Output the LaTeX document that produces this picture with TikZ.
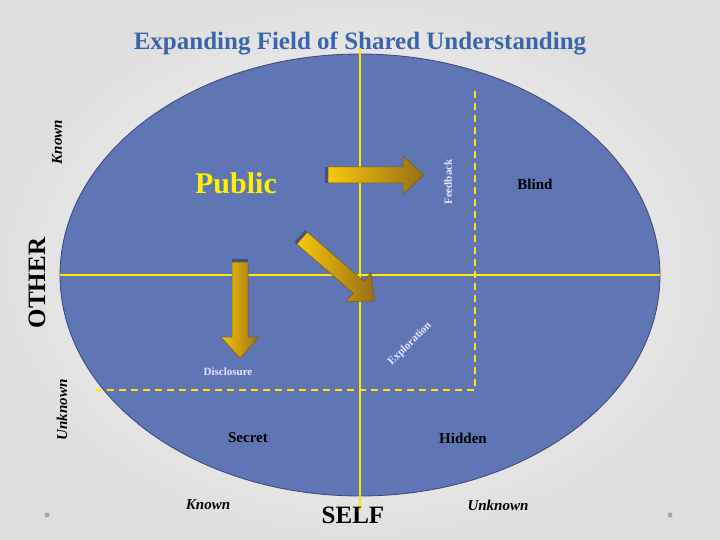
\documentclass[tikz,border=0pt]{standalone}
\usepackage{fontspec}
\setmainfont{Liberation Serif}
\definecolor{ttl}{RGB}{60,100,170}
\definecolor{ellf}{RGB}{96,117,180}
\definecolor{elld}{RGB}{60,70,120}
\definecolor{gA}{RGB}{250,200,10}
\definecolor{gB}{RGB}{150,110,20}
\definecolor{gD}{RGB}{120,90,20}
\definecolor{nt}{RGB}{70,80,130}
\begin{document}
\begin{tikzpicture}[x=1pt,y=-1pt,
  yl/.style={draw=yellow!90!orange, line width=1.3pt},
  dl/.style={yl, dash pattern=on 7pt off 5pt},
  lab/.style={font=\bfseries\fontsize{15}{15}\selectfont},
  side/.style={font=\bfseries\itshape\fontsize{15}{15}\selectfont},
  wl/.style={text=white!90!blue, font=\bfseries\fontsize{11}{11}\selectfont}]
\useasboundingbox (0,0) rectangle (720,540);
\shade[inner color=white, outer color=gray!25] (0,0) rectangle (720,540);
\fill[gray!70] (47,515) circle (2.5);
\fill[gray!70] (670,515) circle (2.5);
\node[font=\bfseries\fontsize{25}{25}\selectfont, text=ttl] (title) at (360,43) {Expanding Field of Shared Understanding};
\filldraw[fill=ellf, draw=elld, line width=0.8pt] (360,275) ellipse [x radius=300, y radius=221];
\coordinate (vt) at (360,48); \coordinate (vb) at (360,510);
\coordinate (hl) at (60,275); \coordinate (hr) at (660,275);
\draw[yl] (vt) -- (vb);
\draw[yl] (hl) -- (hr);
\coordinate (d1) at (95,390); \coordinate (d2) at (475,390); \coordinate (d3) at (475,88);
\draw[dl] (d1) -- (d2) -- (d3);
\newcommand{\goldarrow}[1]{%
 \begin{scope}[#1]
 \shade[left color=gA, right color=gB, draw=gD, line width=0.5pt]
   (0,-8) -- (75,-8) -- (75,-19) -- (96,0) -- (75,19) -- (75,8) -- (0,8) -- cycle;
 \fill[nt] (-3,-8) rectangle (0,8);
 \end{scope}}
\goldarrow{shift={(328,175)}}
\goldarrow{shift={(240,262)}, rotate=-90}
\goldarrow{shift={(302,238)}, rotate=-41}
\node[font=\bfseries\fontsize{30}{30}\selectfont, text=yellow] (pub) at (236,183) {Public};
\node[lab] (blind) at (535,184) {Blind};
\node[lab] (secret) at (248,438) {Secret};
\node[lab] (hidden) at (463,438) {Hidden};
\node[wl, rotate=90] (fb) at (448,182) {Feedback};
\node[wl] (disc) at (228,372) {Disclosure};
\node[wl, rotate=45] (expl) at (410,344) {Exploration};
\node[side, rotate=90] (ok) at (57,142) {Known};
\node[font=\bfseries\fontsize{25}{25}\selectfont, rotate=90] (other) at (37,283) {OTHER};
\node[side, rotate=90] (ou) at (62,410) {Unknown};
\node[side] (sk) at (208,505) {Known};
\node[font=\bfseries\fontsize{25}{25}\selectfont] (self) at (353,515) {SELF};
\node[side] (su) at (498,505) {Unknown};
\end{tikzpicture}
\end{document}
